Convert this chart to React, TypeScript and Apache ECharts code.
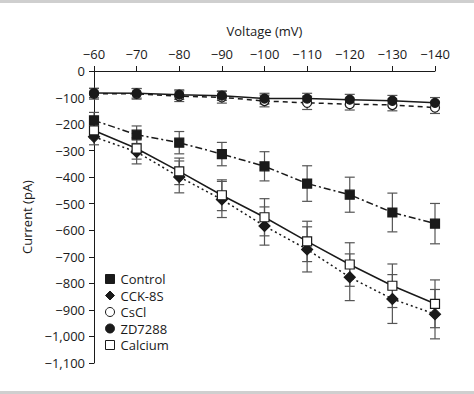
import React, { useEffect, useRef } from "react";
import * as echarts from "echarts";

const voltages = [-60, -70, -80, -90, -100, -110, -120, -130, -140];
const seriesNames = ["Control", "CCK-8S", "CsCl", "ZD7288", "Calcium"];
const controlMean = [-186, -240, -270, -313, -359, -424, -466, -533, -575];
const controlErr = [30, 33, 42, 44, 55, 67, 66, 73, 76];
const cckMean = [-248, -305, -399, -484, -584, -672, -777, -859, -916];
const cckErr = [30, 45, 60, 68, 72, 85, 88, 92, 93];
const cscMean = [-86, -86, -95, -99, -113, -120, -125, -128, -138];
const cscErr = [20, 20, 20, 22, 22, 25, 22, 22, 22];
const zdMean = [-83, -84, -89, -93, -104, -104, -108, -112, -120];
const zdErr = [18, 18, 18, 18, 20, 20, 20, 20, 20];
const calMean = [-224, -292, -378, -468, -551, -642, -729, -809, -877];
const calErr = [28, 40, 50, 58, 70, 76, 82, 82, 90];

const FONT = "Open Sans";
const INK = "#1a1a1a";

const fmt = (v: number) => {
  const s = Math.abs(v).toLocaleString("en-US");
  return v < 0 ? "\u2212" + s : s;
};

function errSeries(mean: number[], err: number[]) {
  return {
    type: "custom",
    silent: true,
    z: 1,
    data: voltages.map((v, i) => [v, mean[i] - err[i], mean[i] + err[i]]),
    renderItem: (_p: any, api: any) => {
      const x = api.value(0);
      const lo = api.coord([x, api.value(1)]);
      const hi = api.coord([x, api.value(2)]);
      const w = 5;
      const style = { stroke: "#555", lineWidth: 1.2 };
      return {
        type: "group",
        children: [
          { type: "line", shape: { x1: lo[0], y1: lo[1], x2: hi[0], y2: hi[1] }, style },
          { type: "line", shape: { x1: lo[0] - w, y1: lo[1], x2: lo[0] + w, y2: lo[1] }, style },
          { type: "line", shape: { x1: hi[0] - w, y1: hi[1], x2: hi[0] + w, y2: hi[1] }, style },
        ],
      };
    },
  };
}

function lineSeries(name: string, mean: number[], symbol: string, filled: boolean, lineType: any, size: number) {
  return {
    name,
    type: "line",
    z: 3,
    data: voltages.map((v, i) => [v, mean[i]]),
    symbol,
    symbolSize: size,
    showAllSymbol: true,
    lineStyle: { color: INK, width: 1.5, type: lineType },
    itemStyle: { color: filled ? INK : "#ffffff", borderColor: INK, borderWidth: 1.2, opacity: 1 },
  };
}

export default function App() {
  const ref = useRef<HTMLDivElement>(null);
  useEffect(() => {
    if (!ref.current) return;
    const chart = echarts.init(ref.current, undefined, { renderer: "svg" });
    chart.setOption({
      animation: false,
      backgroundColor: "#ffffff",
      textStyle: { fontFamily: FONT, color: INK },
      grid: { left: 94, right: 39, top: 71, bottom: 31, containLabel: false },
      graphic: [
        { type: "rect", shape: { x: 0, y: 0, width: 474, height: 3 }, style: { fill: "#cfcfcf" } },
        { type: "rect", shape: { x: 0, y: 391, width: 474, height: 3 }, style: { fill: "#cfcfcf" } },
      ],
      xAxis: {
        type: "value",
        position: "top",
        inverse: true,
        min: -140,
        max: -60,
        interval: 10,
        name: "Voltage (mV)",
        nameLocation: "middle",
        nameGap: 34,
        nameTextStyle: { fontFamily: FONT, fontSize: 13, color: INK },
        axisLine: { show: true, lineStyle: { color: INK, width: 1 } },
        axisTick: { show: true, length: 5, lineStyle: { color: INK } },
        axisLabel: { fontFamily: FONT, fontSize: 13, color: INK, margin: 11, formatter: (v: number) => fmt(v) },
        splitLine: { show: false },
      },
      yAxis: {
        type: "value",
        min: -1100,
        max: 0,
        interval: 100,
        name: "Current (pA)",
        nameLocation: "middle",
        nameGap: 56,
        nameRotate: 90,
        nameTextStyle: { fontFamily: FONT, fontSize: 13, color: INK },
        axisLine: { show: true, lineStyle: { color: INK, width: 1 } },
        axisTick: { show: true, length: 5, lineStyle: { color: INK } },
        axisLabel: { fontFamily: FONT, fontSize: 13, color: INK, margin: 9, formatter: (v: number) => fmt(v) },
        splitLine: { show: false },
      },
      legend: {
        orient: "vertical",
        left: 100,
        top: 267,
        padding: 5,
        itemWidth: 9,
        itemHeight: 9,
        itemGap: 2.5,
        lineStyle: { width: 0, opacity: 0 },
        itemStyle: { borderWidth: 1 },
        textStyle: { fontFamily: FONT, fontSize: 13, color: INK, lineHeight: 14, padding: [0, 0, 0, 1] },
        data: [
          { name: "Control", icon: "rect" },
          { name: "CCK-8S", icon: "diamond" },
          { name: "CsCl", icon: "circle" },
          { name: "ZD7288", icon: "circle" },
          { name: "Calcium", icon: "rect" },
        ],
      },
      series: [
        errSeries(controlMean, controlErr),
        errSeries(cckMean, cckErr),
        errSeries(cscMean, cscErr),
        errSeries(zdMean, zdErr),
        errSeries(calMean, calErr),
        lineSeries(seriesNames[0], controlMean, "rect", true, [7, 3, 2, 3], 9),
        lineSeries(seriesNames[1], cckMean, "diamond", true, [2, 3], 11),
        lineSeries(seriesNames[2], cscMean, "circle", false, [5, 4], 9),
        lineSeries(seriesNames[3], zdMean, "circle", true, "solid", 9),
        lineSeries(seriesNames[4], calMean, "rect", false, "solid", 9),
      ],
    });
    return () => chart.dispose();
  }, []);
  return (
    <div
      ref={ref}
      style={{ position: "fixed", left: 0, top: 0, width: 474, height: 394, background: "#fff" }}
    />
  );
}
